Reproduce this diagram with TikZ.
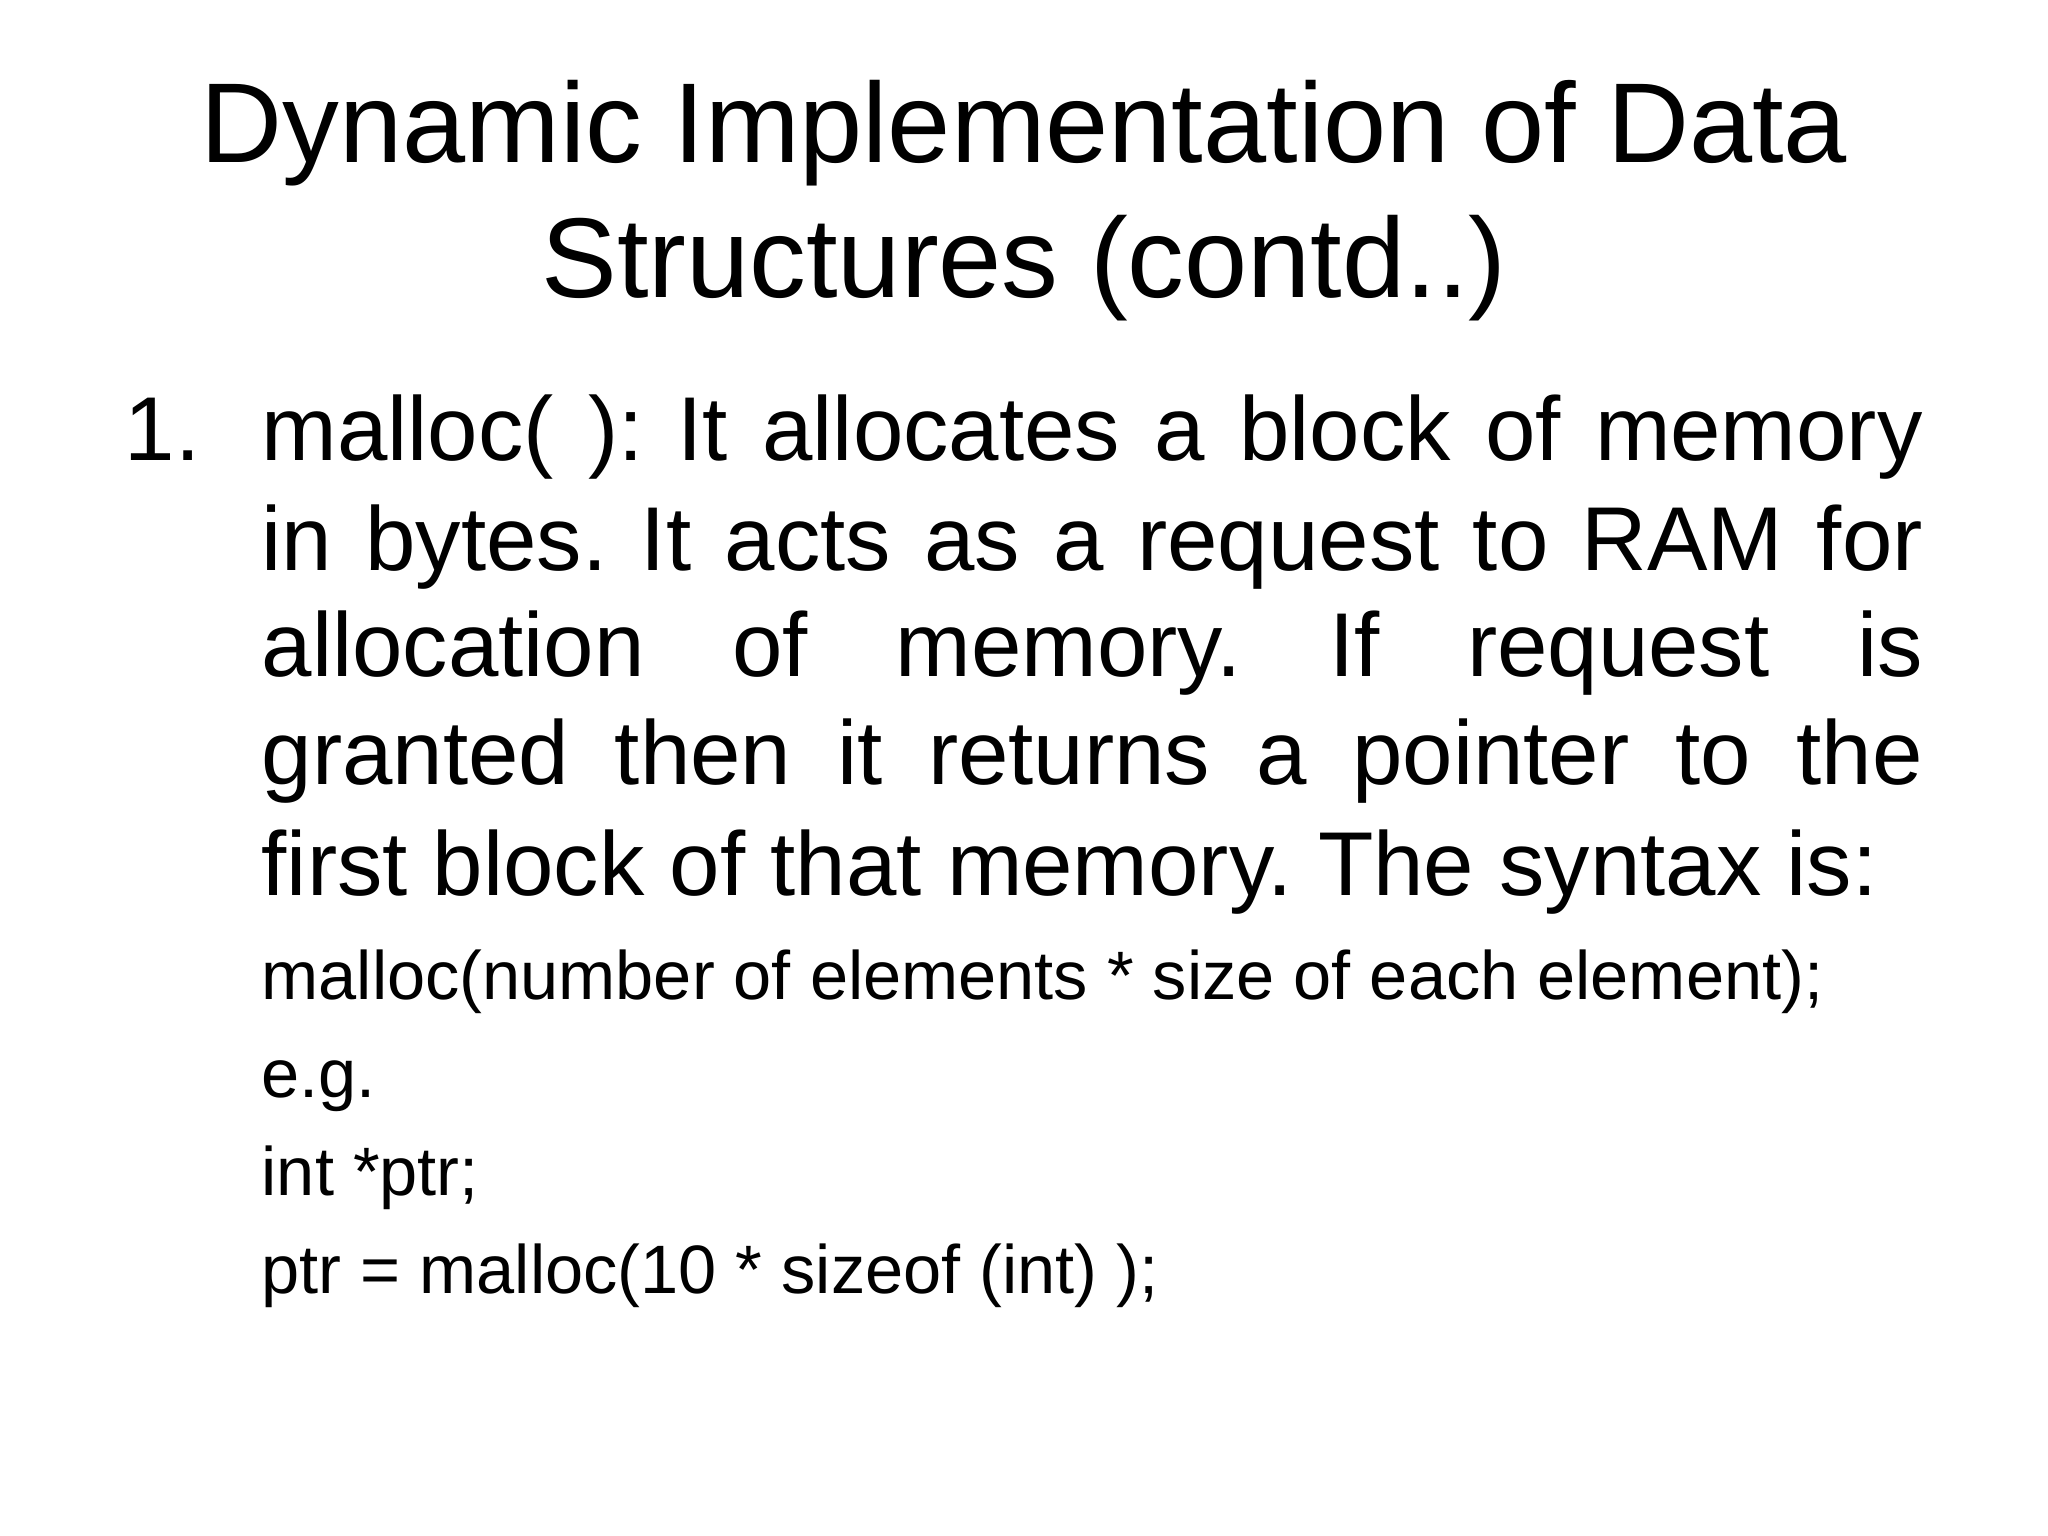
\documentclass[tikz,border=0pt]{standalone}
\usepackage{fontspec}
\setmainfont{Liberation Sans}
\frenchspacing
\begin{document}
\begin{tikzpicture}[
  title/.style={anchor=base,font=\fontsize{32.3pt}{36pt}\selectfont,inner sep=0},
  body/.style={anchor=base west,font=\fontsize{25.8pt}{30pt}\selectfont,inner sep=0},
  small/.style={anchor=base west,font=\fontsize{19.5pt}{22pt}\selectfont,inner sep=0}]
\useasboundingbox[fill=white] (0,0) rectangle (20.48,-15.36);
\node[title] (t1) at (10.24,-1.63) {Dynamic Implementation of Data};
\node[title] (t2) at (10.24,-2.98) {Structures (contd..)};
\node[body] (num) at (1.24,-4.61) {1.};
\node[body] (l1) at (2.61,-4.61) {\makebox[16.61cm][s]{malloc( ): It allocates a block of memory}};
\node[body] (l2) at (2.61,-5.71) {\makebox[16.61cm][s]{in bytes. It acts as a request to RAM for}};
\node[body] (l3) at (2.61,-6.77) {\makebox[16.61cm][s]{allocation of memory. If request is}};
\node[body] (l4) at (2.61,-7.84) {\makebox[16.61cm][s]{granted then it returns a pointer to the}};
\node[body] (l5) at (2.61,-8.95) {first block of that memory. The syntax is:};
\node[small] (s1) at (2.61,-9.99) {malloc(number of elements * size of each element);};
\node[small] (s2) at (2.61,-10.97) {e.g.};
\node[small] (s3) at (2.61,-11.95) {int *ptr;};
\node[small] (s4) at (2.61,-12.93) {ptr = malloc(10 * sizeof (int) );};
\end{tikzpicture}
\end{document}
